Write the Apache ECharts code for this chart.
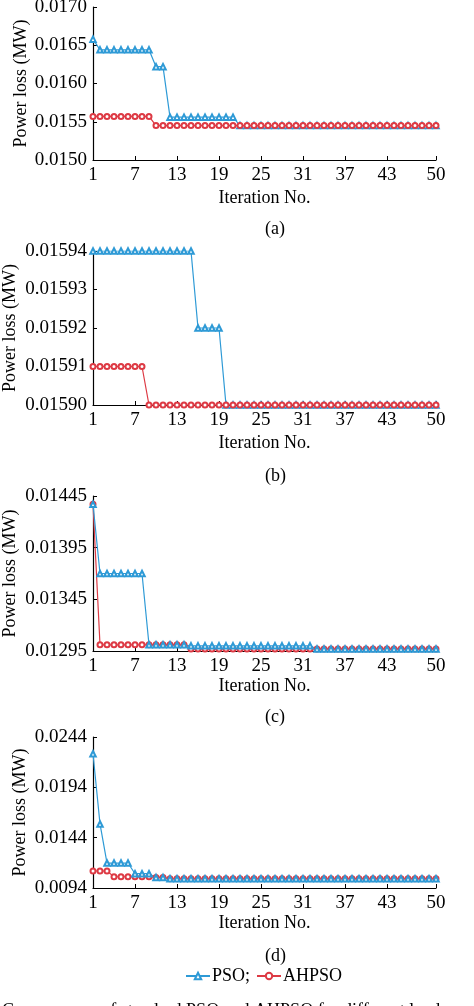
<!DOCTYPE html>
<html>
<head>
<meta charset="utf-8">
<script src="https://cdn.jsdelivr.net/npm/echarts@6.0.0/dist/echarts.min.js"></script>
<style>
	html, body { margin: 0; padding: 0; background: #fff; }
	#chart { width: 474px; height: 1006px; }
</style>
</head>
<body>
<div id="chart"></div>
<script>
// iterations 1..50
var iterations = []
for (var i = 1; i <= 50; i++) iterations.push(String(i))

// (a)
var psoA = [0.01658, 0.01644, 0.01644, 0.01644, 0.01644, 0.01644, 0.01644, 0.01644, 0.01644, 0.01622,
	0.01622, 0.01556, 0.01556, 0.01556, 0.01556, 0.01556, 0.01556, 0.01556, 0.01556, 0.01556,
	0.01556, 0.01545, 0.01545, 0.01545, 0.01545, 0.01545, 0.01545, 0.01545, 0.01545, 0.01545,
	0.01545, 0.01545, 0.01545, 0.01545, 0.01545, 0.01545, 0.01545, 0.01545, 0.01545, 0.01545,
	0.01545, 0.01545, 0.01545, 0.01545, 0.01545, 0.01545, 0.01545, 0.01545, 0.01545, 0.01545]
var ahpsoA = [0.01557, 0.01557, 0.01557, 0.01557, 0.01557, 0.01557, 0.01557, 0.01557, 0.01557, 0.01545,
	0.01545, 0.01545, 0.01545, 0.01545, 0.01545, 0.01545, 0.01545, 0.01545, 0.01545, 0.01545,
	0.01545, 0.01545, 0.01545, 0.01545, 0.01545, 0.01545, 0.01545, 0.01545, 0.01545, 0.01545,
	0.01545, 0.01545, 0.01545, 0.01545, 0.01545, 0.01545, 0.01545, 0.01545, 0.01545, 0.01545,
	0.01545, 0.01545, 0.01545, 0.01545, 0.01545, 0.01545, 0.01545, 0.01545, 0.01545, 0.01545]

// (b)
var psoB = [0.01594, 0.01594, 0.01594, 0.01594, 0.01594, 0.01594, 0.01594, 0.01594, 0.01594, 0.01594,
	0.01594, 0.01594, 0.01594, 0.01594, 0.01594, 0.01592, 0.01592, 0.01592, 0.01592, 0.01590,
	0.01590, 0.01590, 0.01590, 0.01590, 0.01590, 0.01590, 0.01590, 0.01590, 0.01590, 0.01590,
	0.01590, 0.01590, 0.01590, 0.01590, 0.01590, 0.01590, 0.01590, 0.01590, 0.01590, 0.01590,
	0.01590, 0.01590, 0.01590, 0.01590, 0.01590, 0.01590, 0.01590, 0.01590, 0.01590, 0.01590]
var ahpsoB = [0.01591, 0.01591, 0.01591, 0.01591, 0.01591, 0.01591, 0.01591, 0.01591, 0.01590, 0.01590,
	0.01590, 0.01590, 0.01590, 0.01590, 0.01590, 0.01590, 0.01590, 0.01590, 0.01590, 0.01590,
	0.01590, 0.01590, 0.01590, 0.01590, 0.01590, 0.01590, 0.01590, 0.01590, 0.01590, 0.01590,
	0.01590, 0.01590, 0.01590, 0.01590, 0.01590, 0.01590, 0.01590, 0.01590, 0.01590, 0.01590,
	0.01590, 0.01590, 0.01590, 0.01590, 0.01590, 0.01590, 0.01590, 0.01590, 0.01590, 0.01590]

// (c)
var psoC = [0.01437, 0.01370, 0.01370, 0.01370, 0.01370, 0.01370, 0.01370, 0.01370, 0.01301, 0.01301,
	0.01301, 0.01301, 0.01301, 0.01301, 0.01300, 0.01300, 0.01300, 0.01300, 0.01300, 0.01300,
	0.01300, 0.01300, 0.01300, 0.01300, 0.01300, 0.01300, 0.01300, 0.01300, 0.01300, 0.01300,
	0.01300, 0.01300, 0.01297, 0.01297, 0.01297, 0.01297, 0.01297, 0.01297, 0.01297, 0.01297,
	0.01297, 0.01297, 0.01297, 0.01297, 0.01297, 0.01297, 0.01297, 0.01297, 0.01297, 0.01297]
var ahpsoC = [0.01437, 0.01301, 0.01301, 0.01301, 0.01301, 0.01301, 0.01301, 0.01301, 0.01301, 0.01301,
	0.01301, 0.01301, 0.01301, 0.01301, 0.01297, 0.01297, 0.01297, 0.01297, 0.01297, 0.01297,
	0.01297, 0.01297, 0.01297, 0.01297, 0.01297, 0.01297, 0.01297, 0.01297, 0.01297, 0.01297,
	0.01297, 0.01297, 0.01297, 0.01297, 0.01297, 0.01297, 0.01297, 0.01297, 0.01297, 0.01297,
	0.01297, 0.01297, 0.01297, 0.01297, 0.01297, 0.01297, 0.01297, 0.01297, 0.01297, 0.01297]

// (d)
var psoD = [0.02274, 0.01576, 0.01188, 0.01188, 0.01188, 0.01188, 0.01082, 0.01082, 0.01082, 0.01045,
	0.01045, 0.01032, 0.01032, 0.01032, 0.01032, 0.01032, 0.01032, 0.01032, 0.01032, 0.01032,
	0.01032, 0.01032, 0.01032, 0.01032, 0.01032, 0.01032, 0.01032, 0.01032, 0.01032, 0.01032,
	0.01032, 0.01032, 0.01032, 0.01032, 0.01032, 0.01032, 0.01032, 0.01032, 0.01032, 0.01032,
	0.01032, 0.01032, 0.01032, 0.01032, 0.01032, 0.01032, 0.01032, 0.01032, 0.01032, 0.01032]
var ahpsoD = [0.01109, 0.01109, 0.01109, 0.01052, 0.01052, 0.01052, 0.01052, 0.01052, 0.01052, 0.01045,
	0.01045, 0.01032, 0.01032, 0.01032, 0.01032, 0.01032, 0.01032, 0.01032, 0.01032, 0.01032,
	0.01032, 0.01032, 0.01032, 0.01032, 0.01032, 0.01032, 0.01032, 0.01032, 0.01032, 0.01032,
	0.01032, 0.01032, 0.01032, 0.01032, 0.01032, 0.01032, 0.01032, 0.01032, 0.01032, 0.01032,
	0.01032, 0.01032, 0.01032, 0.01032, 0.01032, 0.01032, 0.01032, 0.01032, 0.01032, 0.01032]

// y axis ranges: min, max, interval, decimals
var yMin = [0.0150, 0.01590, 0.01295, 0.0094]
var yMax = [0.0170, 0.01594, 0.01445, 0.0244]
var yStep = [0.0005, 0.00001, 0.0005, 0.005]
var yDigits = [4, 5, 5, 4]

var panelLabels = ['(a)', '(b)', '(c)', '(d)']
var caption = 'Convergence of standard PSO and AHPSO for different loads'

var blue = '#2e9ad6'
var red = '#dd3a44'
var font = '"Liberation Serif", "Times New Roman", serif'

// layout of the four plots
var gridTop = [7, 251, 496, 737]
var gridHeight = [153, 154, 155, 151]
var yNameGap = [63, 74, 74, 64]
var xNameGap = [29, 29, 26, 26]
var labelY = [220, 467, 708, 947]

var psoList = [psoA, psoB, psoC, psoD]
var ahpsoList = [ahpsoA, ahpsoB, ahpsoC, ahpsoD]

//标签 1,7,...,43,50
function showTick(index) {
	return (index % 6 === 0 && index < 48) || index === 49
}

var grids = [], xAxes = [], yAxes = [], series = [], texts = []
for (let k = 0; k < 4; k++) {
	grids.push({ left: 93, width: 343, top: gridTop[k], height: gridHeight[k], outerBoundsMode: 'none', containLabel: false })
	xAxes.push({
		gridIndex: k,
		type: 'category',
		data: iterations,
		boundaryGap: false,
		name: 'Iteration No.',
		nameLocation: 'middle',
		nameGap: xNameGap[k],
		nameMoveOverlap: false,
		nameTextStyle: { fontFamily: font, fontSize: 18, color: '#000' },
		axisLine: { lineStyle: { color: '#000', width: 1.2 } },
		axisTick: { inside: true, length: 4, interval: showTick, lineStyle: { color: '#000' } },
		axisLabel: { interval: showTick, margin: 6, fontFamily: font, fontSize: 19, color: '#000' },
		splitLine: { show: false }
	})
	yAxes.push({
		gridIndex: k,
		type: 'value',
		min: yMin[k],
		max: yMax[k],
		interval: yStep[k],
		name: 'Power loss (MW)',
		nameLocation: 'middle',
		nameGap: yNameGap[k],
		nameMoveOverlap: false,
		nameTextStyle: { fontFamily: font, fontSize: 18, color: '#000' },
		axisLine: { show: true, lineStyle: { color: '#000', width: 1.2 } },
		axisTick: { show: true, inside: true, length: 4, lineStyle: { color: '#000' } },
		axisLabel: {
			margin: 6, fontFamily: font, fontSize: 19, color: '#000',
			formatter: function (v) { return v.toFixed(yDigits[k]) }
		},
		splitLine: { show: false }
	})
	var pso = {
		name: 'PSO', type: 'line', xAxisIndex: k, yAxisIndex: k,
		data: psoList[k],
		symbol: 'emptyTriangle', symbolSize: 5.5, showAllSymbol: true,
		lineStyle: { color: blue, width: 1.2 },
		itemStyle: { color: blue, borderWidth: 1.1 }
	}
	var ahpso = {
		name: 'AHPSO', type: 'line', xAxisIndex: k, yAxisIndex: k,
		data: ahpsoList[k],
		symbol: 'emptyCircle', symbolSize: 5, showAllSymbol: true,
		lineStyle: { color: red, width: 1.2 },
		itemStyle: { color: red, borderWidth: 1.1 }
	}
	//(a)(b) red on top, (c)(d) blue on top
	if (k < 2) series.push(pso, ahpso)
	else series.push(ahpso, pso)

	texts.push({
		type: 'text', left: 265, top: labelY[k],
		style: { text: panelLabels[k], font: '18px ' + font, fill: '#000', textAlign: 'center', textVerticalAlign: 'middle' }
	})
}
texts.push({
	type: 'text', left: 2, top: 1002,
	style: { text: caption, font: '18px ' + font, fill: '#000' }
})

var option = {
	animation: false,
	grid: grids,
	xAxis: xAxes,
	yAxis: yAxes,
	series: series,
	legend: {
		data: ['PSO', 'AHPSO'],
		left: 180, top: 962,
		itemWidth: 24, itemHeight: 8, itemGap: 6,
		formatter: function (name) { return name === 'PSO' ? 'PSO;' : name },
		textStyle: { fontFamily: font, fontSize: 18, color: '#000', padding: [0, 0, 0, -3] }
	},
	graphic: texts
}

var chart = echarts.init(document.getElementById('chart'))
chart.setOption(option)
</script>
</body>
</html>
